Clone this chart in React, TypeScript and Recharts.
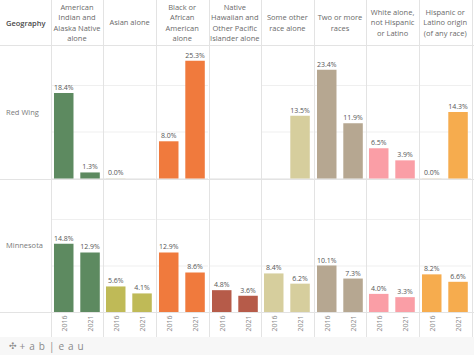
import React from 'react';
import { BarChart, Bar, XAxis, YAxis, CartesianGrid, LabelList } from 'recharts';

// header labels (line breaks as in the Tableau header)
const categories = [
  'American\nIndian and\nAlaska Native\nalone',
  'Asian alone',
  'Black or\nAfrican\nAmerican\nalone',
  'Native\nHawaiian and\nOther Pacific\nIslander alone',
  'Some other\nrace alone',
  'Two or more\nraces',
  'White alone,\nnot Hispanic\nor Latino',
  'Hispanic or\nLatino origin\n(of any race)',
];
const geographies = ['Red Wing', 'Minnesota'];
const years = ['2016', '2021'];
const colors = ['#5d8a60', '#bfba57', '#f07a3d', '#b65b49', '#d6ce9d', '#b6a791', '#fa9ea6', '#f6ac4e'];

const redWing2016 = [18.4, 0.0, 8.0, null, null, 23.4, 6.5, 0.0];
const redWing2021 = [1.3, null, 25.3, null, 13.5, 11.9, 3.9, 14.3];
const minnesota2016 = [14.8, 5.6, 12.9, 4.8, 8.4, 10.1, 4.0, 8.2];
const minnesota2021 = [12.9, 4.1, 8.6, 3.6, 6.2, 7.3, 3.3, 6.6];

const rows = [
  [redWing2016, redWing2021],
  [minnesota2016, minnesota2021],
];

const FONT = '"Open Sans", "DejaVu Sans", sans-serif';
const GEO_W = 50.7;
const COL_W = 52.6;
const HEADER_H = 45;
const ROW_H = 133.5;
const YEAR_H = 25;
const LINE = '#e3e3e3';

const fmt = (v: any) => (v == null ? '' : `${Number(v).toFixed(1)}%`);

const YearTick = (props: any) => {
  const { x, y, payload } = props;
  return (
    <text
      x={x}
      y={y}
      transform={`rotate(-90, ${x}, ${y})`}
      textAnchor="end"
      dominantBaseline="central"
      fontSize={7}
      fontFamily={FONT}
      fill="#8a8a8a"
    >
      {payload.value}
    </text>
  );
};

const MiniBars = ({ values, color, showYears }: any) => {
  const data = years.map((y, i) => ({ year: y, value: values[i] }));
  return (
    <BarChart
      width={COL_W}
      height={showYears ? ROW_H + YEAR_H : ROW_H}
      data={data}
      margin={{ top: 0, right: 0, bottom: 0, left: 0 }}
    >
      <CartesianGrid vertical={false} stroke="#efefef" />
      <XAxis
        dataKey="year"
        hide={!showYears}
        height={YEAR_H}
        axisLine={false}
        tickLine={false}
        tickSize={0}
        tickMargin={3}
        interval={0}
        tick={<YearTick />}
      />
      <YAxis hide domain={[0, 28.7]} ticks={[0, 10, 20]} />
      <Bar dataKey="value" fill={color} barSize={19.5} minPointSize={0.1} isAnimationActive={false}>
        <LabelList
          dataKey="value"
          position="top"
          offset={3}
          formatter={fmt}
          style={{ fontSize: 7, fill: '#555', fontFamily: FONT }}
        />
      </Bar>
    </BarChart>
  );
};

export default function App() {
  const rowTop = (r: number) => HEADER_H + r * ROW_H;
  return (
    <div
      style={{
        position: 'absolute',
        left: 0,
        top: 0,
        width: 474,
        height: 355,
        background: '#fff',
        fontFamily: FONT,
        overflow: 'hidden',
      }}
    >
      {/* header */}
      <div
        style={{
          position: 'absolute',
          left: 0,
          top: 0,
          width: GEO_W,
          height: HEADER_H,
          display: 'flex',
          alignItems: 'center',
          paddingLeft: 6,
          boxSizing: 'border-box',
          fontSize: 7.5,
          fontWeight: 600,
          color: '#4a4a4a',
        }}
      >
        Geography
      </div>
      {categories.map((c, i) => (
        <div
          key={c}
          style={{
            position: 'absolute',
            left: GEO_W + i * COL_W,
            top: 0,
            width: COL_W,
            height: HEADER_H,
            display: 'flex',
            alignItems: 'center',
            justifyContent: 'center',
            textAlign: 'center',
            whiteSpace: 'pre',
            fontSize: 7.5,
            lineHeight: '10.5px',
            color: '#6a6a6a',
          }}
        >
          {c}
        </div>
      ))}

      {/* row labels */}
      {geographies.map((g, r) => (
        <div
          key={g}
          style={{
            position: 'absolute',
            left: 6,
            top: rowTop(r),
            height: ROW_H,
            display: 'flex',
            alignItems: 'center',
            fontSize: 7.5,
            color: '#7a7a7a',
          }}
        >
          {g}
        </div>
      ))}

      {/* small multiples */}
      {rows.map((series, r) =>
        categories.map((c, i) => (
          <div
            key={`${r}-${i}`}
            style={{ position: 'absolute', left: GEO_W + i * COL_W, top: rowTop(r) }}
          >
            <MiniBars
              values={[series[0][i], series[1][i]]}
              color={colors[i]}
              showYears={r === rows.length - 1}
            />
          </div>
        ))
      )}

      {/* separators */}
      {[HEADER_H, rowTop(1), rowTop(2)].map((y) => (
        <div
          key={y}
          style={{ position: 'absolute', left: 0, top: y, width: 474, height: 1, background: LINE }}
        />
      ))}
      {categories.concat(['']).map((c, i) => (
        <div
          key={`v${i}`}
          style={{
            position: 'absolute',
            left: GEO_W + i * COL_W,
            top: 0,
            width: 1,
            height: rowTop(2) + YEAR_H,
            background: LINE,
          }}
        />
      ))}

      {/* footer */}
      <div
        style={{
          position: 'absolute',
          left: 0,
          top: 337,
          width: 474,
          height: 18,
          background: '#f7f7f7',
          display: 'flex',
          alignItems: 'center',
          paddingLeft: 9,
          boxSizing: 'border-box',
          color: '#8a8a8a',
        }}
      >
        <span style={{ fontSize: 9, marginRight: 3, fontFamily: '"DejaVu Sans", sans-serif' }}>✣</span>
        <span style={{ fontSize: 10, letterSpacing: 4 }}>+ab|eau</span>
      </div>
    </div>
  );
}
